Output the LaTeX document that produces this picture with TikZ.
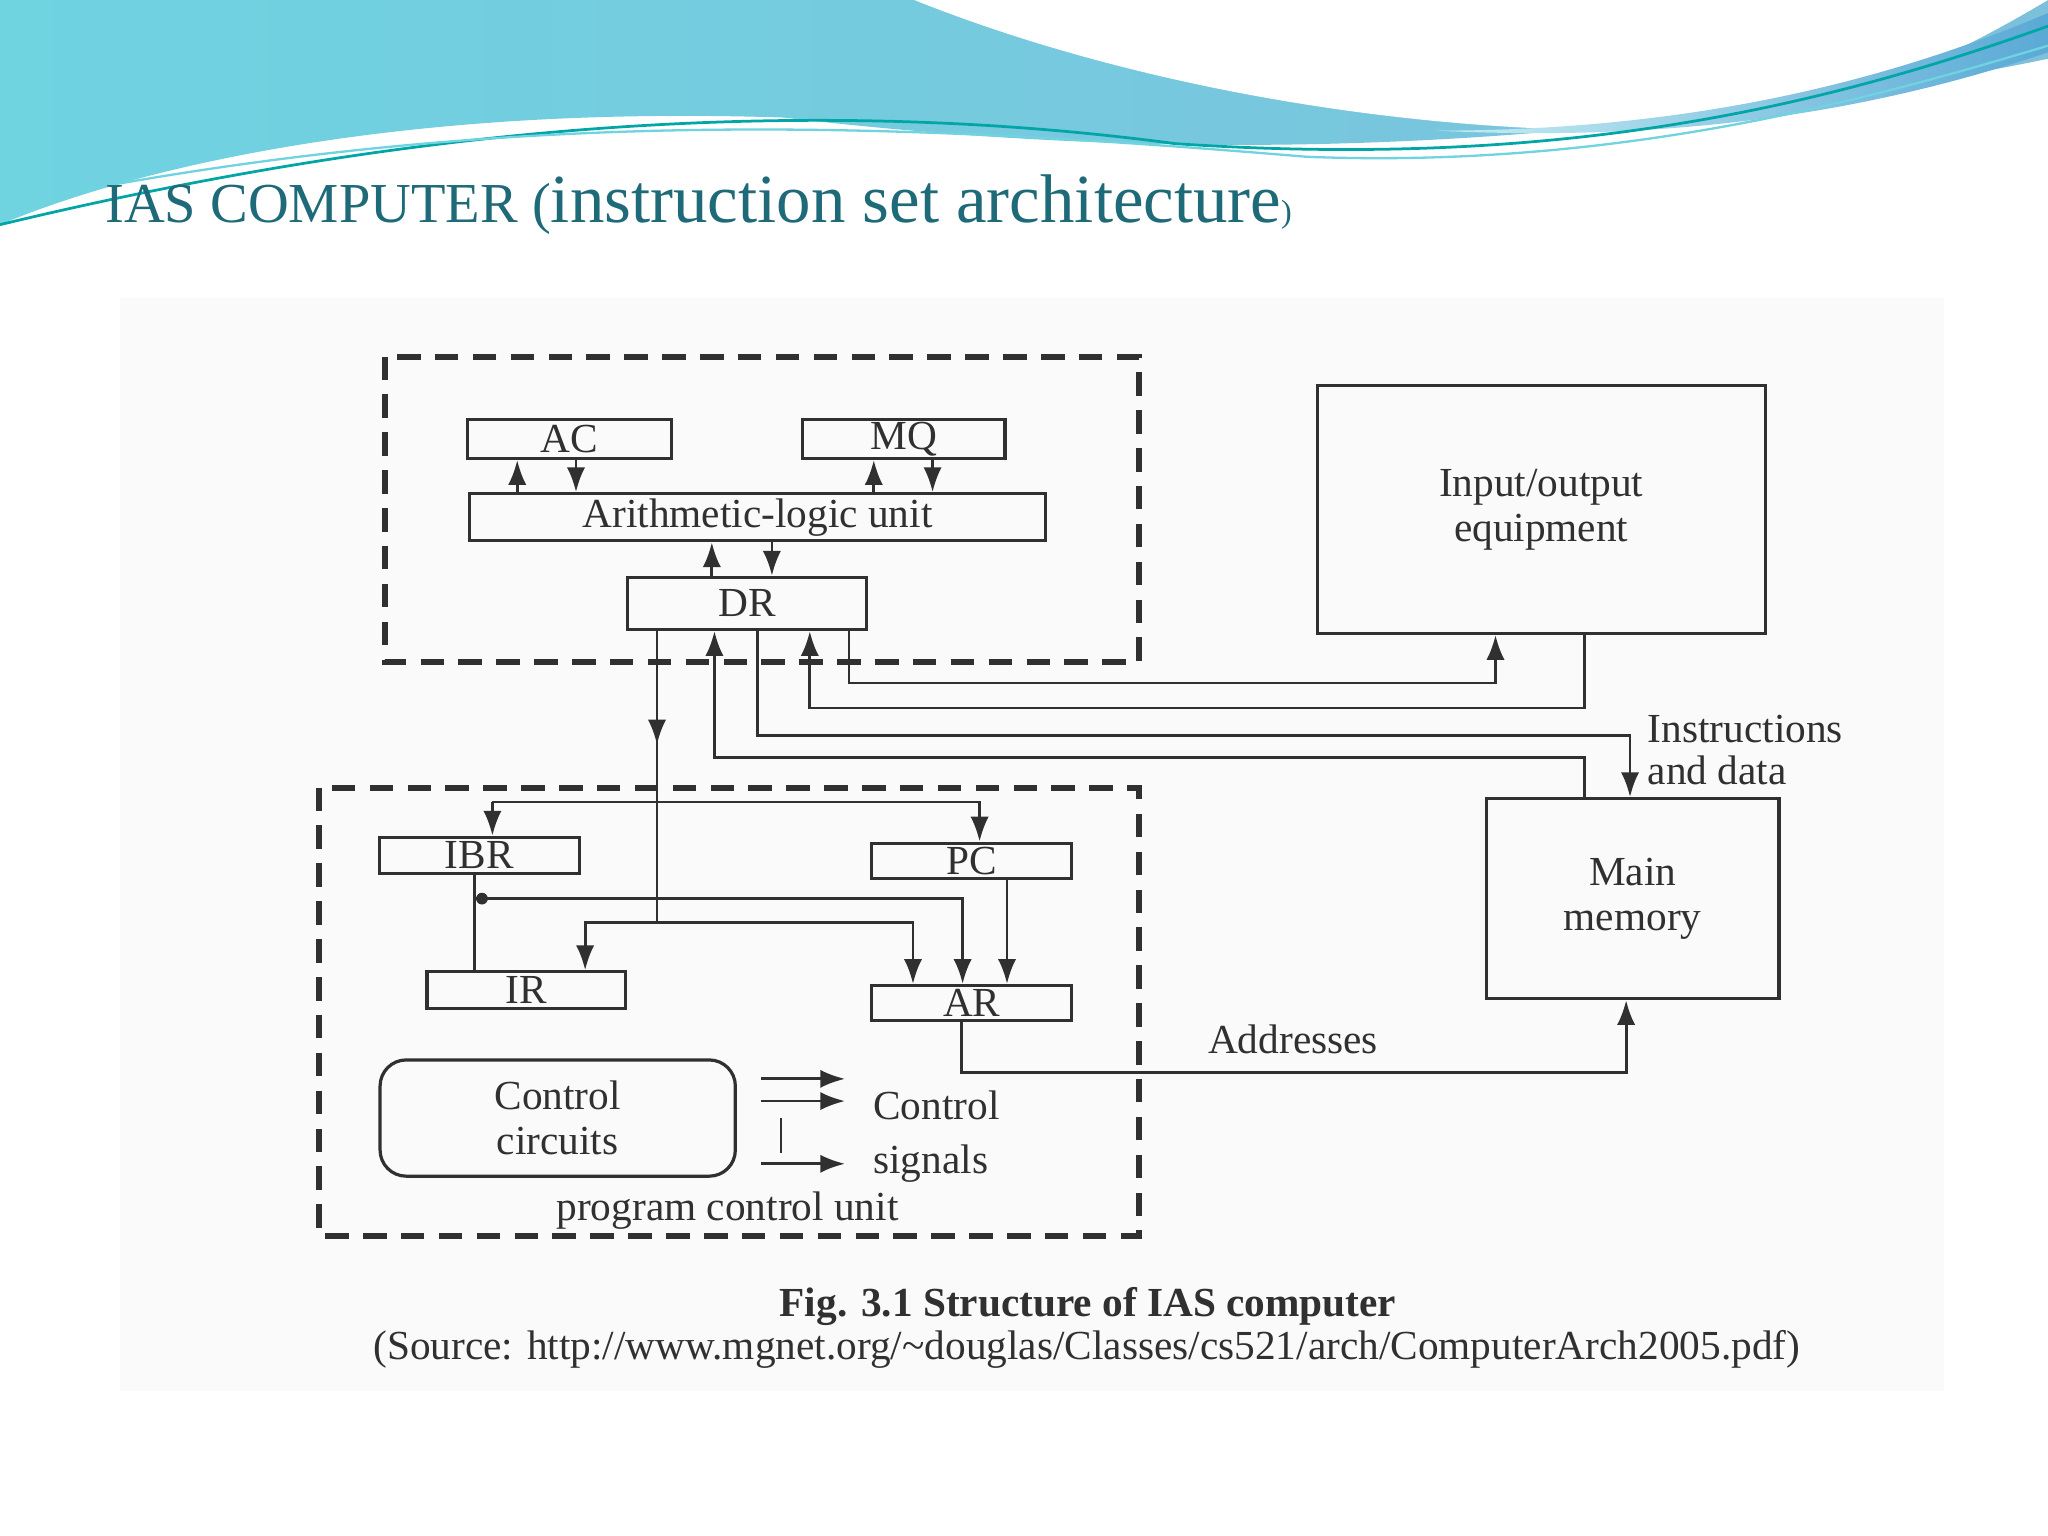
\documentclass[tikz,border=0pt]{standalone}
\usepackage{fontspec}
\setmainfont{Liberation Serif}
\usetikzlibrary{arrows.meta}
\definecolor{ink}{HTML}{303030}
\definecolor{ttl}{HTML}{1E6A78}
\definecolor{wa}{HTML}{6FD3E0}
\definecolor{wb}{HTML}{7CC0DC}
\definecolor{wc}{HTML}{5AA9D6}
\begin{document}
\begin{tikzpicture}[x=0.1mm,y=-0.1mm,
  ln/.style={draw=ink,line width=0.6pt},
  ar/.style={ln,-{Latex[length=1.9mm,width=1.4mm]}},
  reg/.style={draw=ink,line width=0.7pt,rectangle,inner sep=0pt,font=\fontsize{9}{10}\selectfont,text=ink},
  lbl/.style={font=\fontsize{9}{11}\selectfont,text=ink,align=center,inner sep=0pt},
  dbox/.style={draw=ink,line width=1.3pt,dash pattern=on 1.8mm off 1.1mm}]
\useasboundingbox (0,0) rectangle (1568,1176);
\fill[white] (0,0) rectangle (1568,1176);
% header waves
\shade[left color=wa,right color=wb] (0,0) -- (1568,0) -- (1568,45) .. controls (1200,120) and (900,125) .. (600,90) .. controls (300,80) and (100,130) .. (0,172) -- cycle;
\fill[white] (700,0) .. controls (850,60) and (1050,100) .. (1250,100) .. controls (1400,95) and (1500,40) .. (1568,0) -- cycle;
\shade[left color=wa!40,right color=wc] (1100,100) .. controls (1300,100) and (1450,60) .. (1568,10) -- (1568,40) .. controls (1450,80) and (1300,110) .. (1100,100) -- cycle;
\draw[teal!70!cyan,line width=0.6pt] (0,172) .. controls (300,100) and (600,70) .. (900,110) .. controls (1200,130) and (1400,80) .. (1568,20);
\draw[wa,line width=0.5pt] (40,150) .. controls (400,80) and (700,95) .. (1000,120) .. controls (1250,130) and (1450,70) .. (1568,35);
% title
\node[anchor=base west,inner sep=0pt,text=ttl] (title) at (80,170) {{\fontsize{12.3}{14}\selectfont IAS COMPUTER (}{\fontsize{15}{18}\selectfont instruction set architecture}{\fontsize{7}{8}\selectfont )}};
% diagram area
\fill[gray!4] (92,228) rectangle (1488,1065);
% dashed boxes
\draw[dbox] (295,273) rectangle (872,507);
\draw[dbox] (244,603) rectangle (872,946);
% registers
\node[reg] (AC) at (436,336) [minimum width=15.6mm,minimum height=3mm] {AC};
\node[reg] (MQ) at (692,336) [minimum width=15.5mm,minimum height=3mm] {MQ};
\node[reg] (ALU) at (580,396) [minimum width=44.1mm,minimum height=3.6mm] {Arithmetic-logic unit};
\node[reg] (DR) at (572,462) [minimum width=18.3mm,minimum height=4mm] {DR};
\node[reg] (IBR) at (367,655) [minimum width=15.3mm,minimum height=2.8mm] {IBR};
\node[reg] (PC) at (744,659) [minimum width=15.3mm,minimum height=2.7mm] {PC};
\node[reg] (IR) at (403,758) [minimum width=15.2mm,minimum height=2.8mm] {IR};
\node[reg] (AR) at (744,768) [minimum width=15.3mm,minimum height=2.7mm] {AR};
\node[reg,rounded corners=2mm,minimum width=27.2mm,minimum height=8.9mm,align=center,font=\fontsize{9}{9.8}\selectfont] (CC) at (427,856) {Control\\circuits};
\node[reg,minimum width=34.3mm,minimum height=19mm,align=center,font=\fontsize{9}{9.8}\selectfont] (IO) at (1180,390) {Input/output\\equipment};
\node[reg,minimum width=22.4mm,minimum height=15.3mm,align=center,font=\fontsize{9}{9.8}\selectfont] (MM) at (1250,688) {Main\\memory};
% AC/MQ <-> ALU
\draw[ar] (396,0|-ALU.north) -- (396,0|-AC.south);
\draw[ar] (441,0|-AC.south) -- (441,0|-ALU.north);
\draw[ar] (669,0|-ALU.north) -- (669,0|-MQ.south);
\draw[ar] (714,0|-MQ.south) -- (714,0|-ALU.north);
\draw[ar] (545,0|-DR.north) -- (545,0|-ALU.south);
\draw[ar] (591,0|-ALU.south) -- (591,0|-DR.north);
% DR to IO / memory
\coordinate (b1) at (503,706);
\draw[ar] (503,0|-DR.south) -- (503,570);
\draw[ln] (503,560) -- (b1);
\draw[ar] (650,0|-DR.south) -- (650,523) -- (1145,523) -- (1145,0|-IO.south);
\draw[ar] (1213,0|-IO.south) -- (1213,542) -- (620,542) -- (620,0|-DR.south);
\draw[ar] (580,0|-DR.south) -- (580,563) -- (1248,563) -- (1248,0|-MM.north);
\draw[ar] (1213,0|-MM.north) -- (1213,580) -- (547,580) -- (547,0|-DR.south);
\node[lbl,anchor=west,align=left,font=\fontsize{9}{9.2}\selectfont] (ind) at (1261,574) {Instructions\\and data};
% program control unit internals
\draw[ar] (377,614) -- (377,0|-IBR.north);
\draw[ar] (377,614) -- (750,614) -- (750,0|-PC.north);
\draw[ln] (363,0|-IBR.south) -- (363,0|-IR.north);
\fill[ink] (369,688) circle (4.5);
\draw[ar] (363,688) -- (737,688) -- (737,0|-AR.north);
\draw[ar] (b1) -- (448,706) -- (448,0|-IR.north);
\draw[ar] (b1) -- (699,706) -- (699,0|-AR.north);
\draw[ar] (771,0|-PC.south) -- (771,0|-AR.north);
\draw[ar] (736,0|-AR.south) -- (736,821) -- (1245,821) -- (1245,0|-MM.south);
\node[lbl,font=\fontsize{9}{11}\selectfont] (addr) at (990,796) {Addresses};
% control signals
\coordinate (s1) at (583,826); \coordinate (e1) at (647,826);
\coordinate (s2) at (583,843); \coordinate (e2) at (647,843);
\coordinate (s3) at (583,891); \coordinate (e3) at (647,891);
\draw[ar] (s1) -- (e1);
\draw[ar] (s2) -- (e2);
\draw[ar] (s3) -- (e3);
\draw[ln] (598,856) -- (598,883);
\node[lbl,anchor=west,font=\fontsize{9}{11}\selectfont] (cs1) at (668,846) {Control};
\node[lbl,anchor=west,font=\fontsize{9}{11}\selectfont] (cs2) at (668,891) {signals};
\node[lbl,font=\fontsize{9}{11}\selectfont] (pcu) at (557,927) {program control unit};
% caption
\node[lbl,font=\bfseries\fontsize{9}{11}\selectfont] (cap) at (833,1000) {Fig. 3.1 Structure of IAS computer};
\node[lbl,font=\fontsize{9}{11}\selectfont] (src) at (832,1033) {(Source: http://www.mgnet.org/\textasciitilde douglas/Classes/cs521/arch/ComputerArch2005.pdf)};
\end{tikzpicture}
\end{document}
